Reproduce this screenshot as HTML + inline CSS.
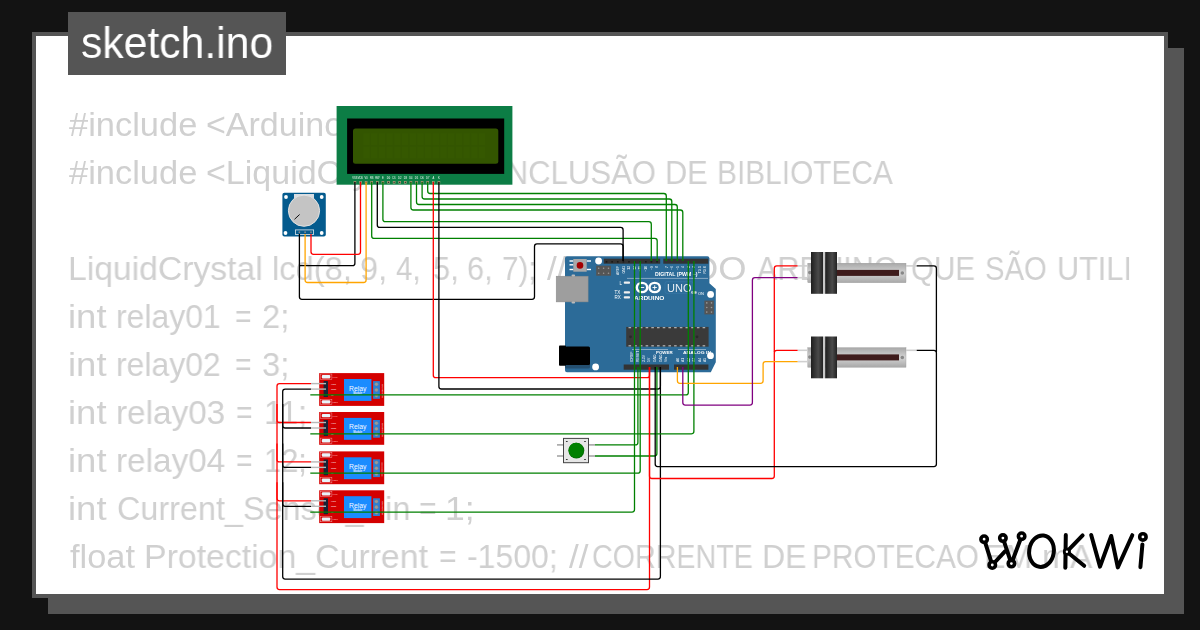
<!DOCTYPE html>
<html><head><meta charset="utf-8">
<style>
html,body{margin:0;padding:0;}
body{width:1200px;height:630px;background:#131313;position:relative;overflow:hidden;font-family:"Liberation Sans",sans-serif;}
.shadow{position:absolute;left:48px;top:48px;width:1136px;height:566px;background:#555;}
.panel{position:absolute;left:32px;top:32px;width:1128px;height:558px;border:4px solid #555;background:#fff;}
.tab{position:absolute;left:68px;top:12px;width:218px;height:63px;background:#555;}
.tab span{position:absolute;left:13px;top:6.9px;color:#fff;font-size:43.5px;line-height:48px;white-space:pre;transform:scaleX(0.981);transform-origin:0 0;will-change:transform;}
.code{position:absolute;left:0;top:0;width:1200px;height:630px;}
.code span{position:absolute;color:#d0d0d0;will-change:transform;font-size:34px;line-height:48px;white-space:pre;transform-origin:0 0;}
svg{position:absolute;left:0;top:0;}
</style></head><body>
<div class="shadow"></div>
<div class="panel"></div>
<div class="tab"><span>sketch.ino</span></div>
<div class="code">
<span style="left:69.00px;top:100.4px;transform:scaleX(1.0132)">#include</span>
<span style="left:206.40px;top:100.4px;transform:scaleX(1.0000)">&lt;Arduino.h&gt;</span>
<span style="left:69.00px;top:148.4px;transform:scaleX(1.0132)">#include</span>
<span style="left:206.40px;top:148.4px;transform:scaleX(1.0000)">&lt;LiquidCrystal.h&gt;</span>
<span style="left:480.14px;top:148.4px;transform:scaleX(1.0000)">//</span>
<span style="left:497.25px;top:148.4px;transform:scaleX(0.9151)">INCLUSÃO</span>
<span style="left:664.89px;top:148.4px;transform:scaleX(0.9045)">DE</span>
<span style="left:716.54px;top:148.4px;transform:scaleX(0.8781)">BIBLIOTECA</span>
<span style="left:68.02px;top:244.4px;transform:scaleX(0.9911)">LiquidCrystal</span>
<span style="left:272.48px;top:244.4px;transform:scaleX(0.9607)">lcd(8,</span>
<span style="left:360.30px;top:244.4px;transform:scaleX(0.9535)">9,</span>
<span style="left:395.60px;top:244.4px;transform:scaleX(0.8646)">4,</span>
<span style="left:433.49px;top:244.4px;transform:scaleX(0.9073)">5,</span>
<span style="left:466.60px;top:244.4px;transform:scaleX(0.9033)">6,</span>
<span style="left:501.63px;top:244.4px;transform:scaleX(0.8694)">7);</span>
<span style="left:546.90px;top:244.4px;transform:scaleX(1.0336)">//</span>
<span style="left:575.26px;top:244.4px;transform:scaleX(0.8700)">PINOS</span>
<span style="left:691.86px;top:244.4px;transform:scaleX(1.0704)">DO</span>
<span style="left:756.80px;top:244.4px;transform:scaleX(0.8961)">ARDUINO</span>
<span style="left:911.03px;top:244.4px;transform:scaleX(0.8681)">QUE</span>
<span style="left:985.39px;top:244.4px;transform:scaleX(0.8615)">SÃO</span>
<span style="left:1056.95px;top:244.4px;transform:scaleX(0.9005)">UTILI</span>
<span style="left:67.85px;top:292.4px;transform:scaleX(1.0736)">int</span>
<span style="left:116.12px;top:292.4px;transform:scaleX(0.9392)">relay01</span>
<span style="left:235.17px;top:292.4px;transform:scaleX(0.8333)">=</span>
<span style="left:262.04px;top:292.4px;transform:scaleX(0.9635)">2;</span>
<span style="left:67.85px;top:340.4px;transform:scaleX(1.0736)">int</span>
<span style="left:116.12px;top:340.4px;transform:scaleX(0.9392)">relay02</span>
<span style="left:235.17px;top:340.4px;transform:scaleX(0.8333)">=</span>
<span style="left:262.04px;top:340.4px;transform:scaleX(0.9635)">3;</span>
<span style="left:67.85px;top:388.4px;transform:scaleX(1.0736)">int</span>
<span style="left:116.04px;top:388.4px;transform:scaleX(0.9797)">relay03</span>
<span style="left:235.87px;top:388.4px;transform:scaleX(0.8278)">=</span>
<span style="left:263.67px;top:388.4px;transform:scaleX(0.9629)">11;</span>
<span style="left:67.85px;top:436.4px;transform:scaleX(1.0736)">int</span>
<span style="left:116.04px;top:436.4px;transform:scaleX(0.9797)">relay04</span>
<span style="left:235.87px;top:436.4px;transform:scaleX(0.8278)">=</span>
<span style="left:263.79px;top:436.4px;transform:scaleX(0.9062)">12;</span>
<span style="left:67.85px;top:484.4px;transform:scaleX(1.0736)">int</span>
<span style="left:117.25px;top:484.4px;transform:scaleX(0.9522)">Current_Sensor_Pin</span>
<span style="left:419.11px;top:484.4px;transform:scaleX(0.8889)">=</span>
<span style="left:445.41px;top:484.4px;transform:scaleX(1.0456)">1;</span>
<span style="left:69.50px;top:532.4px;transform:scaleX(1.0105)">float</span>
<span style="left:144.26px;top:532.4px;transform:scaleX(0.9950)">Protection_Current</span>
<span style="left:439.11px;top:532.4px;transform:scaleX(0.8889)">=</span>
<span style="left:466.56px;top:532.4px;transform:scaleX(0.9413)">-1500;</span>
<span style="left:568.50px;top:532.4px;transform:scaleX(1.0285)">//</span>
<span style="left:591.66px;top:532.4px;transform:scaleX(0.8434)">CORRENTE</span>
<span style="left:762.11px;top:532.4px;transform:scaleX(0.9427)">DE</span>
<span style="left:812.25px;top:532.4px;transform:scaleX(0.8753)">PROTECAO</span>
<span style="left:984.11px;top:532.4px;transform:scaleX(0.9426)">EM</span>
<span style="left:1041.77px;top:532.4px;transform:scaleX(0.9884)">mA</span>
</div>
<svg width="1200" height="630" viewBox="0 0 1200 630">
<rect x="336.6" y="106" width="175.8" height="78.7" fill="#0c7d45"/>
<rect x="347.1" y="118.5" width="157.1" height="55.4" fill="#000"/>
<rect x="353" y="128.5" width="145.3" height="35.3" rx="2.5" fill="#335500"/>
<g opacity="0.6"><rect x="363.3" y="133.2" width="6.5" height="12" fill="#375a00"/><rect x="371" y="133.2" width="6.5" height="12" fill="#375a00"/><rect x="378.7" y="133.2" width="6.5" height="12" fill="#375a00"/><rect x="386.4" y="133.2" width="6.5" height="12" fill="#375a00"/><rect x="394.1" y="133.2" width="6.5" height="12" fill="#375a00"/><rect x="401.8" y="133.2" width="6.5" height="12" fill="#375a00"/><rect x="409.5" y="133.2" width="6.5" height="12" fill="#375a00"/><rect x="417.2" y="133.2" width="6.5" height="12" fill="#375a00"/><rect x="424.9" y="133.2" width="6.5" height="12" fill="#375a00"/><rect x="432.6" y="133.2" width="6.5" height="12" fill="#375a00"/><rect x="440.3" y="133.2" width="6.5" height="12" fill="#375a00"/><rect x="448" y="133.2" width="6.5" height="12" fill="#375a00"/><rect x="455.7" y="133.2" width="6.5" height="12" fill="#375a00"/><rect x="463.4" y="133.2" width="6.5" height="12" fill="#375a00"/><rect x="471.1" y="133.2" width="6.5" height="12" fill="#375a00"/><rect x="478.8" y="133.2" width="6.5" height="12" fill="#375a00"/><rect x="363.3" y="146.5" width="6.5" height="12" fill="#375a00"/><rect x="371" y="146.5" width="6.5" height="12" fill="#375a00"/><rect x="378.7" y="146.5" width="6.5" height="12" fill="#375a00"/><rect x="386.4" y="146.5" width="6.5" height="12" fill="#375a00"/><rect x="394.1" y="146.5" width="6.5" height="12" fill="#375a00"/><rect x="401.8" y="146.5" width="6.5" height="12" fill="#375a00"/><rect x="409.5" y="146.5" width="6.5" height="12" fill="#375a00"/><rect x="417.2" y="146.5" width="6.5" height="12" fill="#375a00"/><rect x="424.9" y="146.5" width="6.5" height="12" fill="#375a00"/><rect x="432.6" y="146.5" width="6.5" height="12" fill="#375a00"/><rect x="440.3" y="146.5" width="6.5" height="12" fill="#375a00"/><rect x="448" y="146.5" width="6.5" height="12" fill="#375a00"/><rect x="455.7" y="146.5" width="6.5" height="12" fill="#375a00"/><rect x="463.4" y="146.5" width="6.5" height="12" fill="#375a00"/><rect x="471.1" y="146.5" width="6.5" height="12" fill="#375a00"/><rect x="478.8" y="146.5" width="6.5" height="12" fill="#375a00"/></g>
<rect x="353.6" y="181" width="2.6" height="2.6" fill="#b5a27a"/><rect x="354.3" y="181.7" width="1.2" height="1.2" fill="#222"/>
<rect x="359.2" y="181" width="2.6" height="2.6" fill="#b5a27a"/><rect x="359.9" y="181.7" width="1.2" height="1.2" fill="#222"/>
<rect x="364.8" y="181" width="2.6" height="2.6" fill="#b5a27a"/><rect x="365.5" y="181.7" width="1.2" height="1.2" fill="#222"/>
<rect x="370.4" y="181" width="2.6" height="2.6" fill="#b5a27a"/><rect x="371.1" y="181.7" width="1.2" height="1.2" fill="#222"/>
<rect x="376" y="181" width="2.6" height="2.6" fill="#b5a27a"/><rect x="376.7" y="181.7" width="1.2" height="1.2" fill="#222"/>
<rect x="381.6" y="181" width="2.6" height="2.6" fill="#b5a27a"/><rect x="382.3" y="181.7" width="1.2" height="1.2" fill="#222"/>
<rect x="387.2" y="181" width="2.6" height="2.6" fill="#b5a27a"/><rect x="387.9" y="181.7" width="1.2" height="1.2" fill="#222"/>
<rect x="392.8" y="181" width="2.6" height="2.6" fill="#b5a27a"/><rect x="393.5" y="181.7" width="1.2" height="1.2" fill="#222"/>
<rect x="398.4" y="181" width="2.6" height="2.6" fill="#b5a27a"/><rect x="399.1" y="181.7" width="1.2" height="1.2" fill="#222"/>
<rect x="404" y="181" width="2.6" height="2.6" fill="#b5a27a"/><rect x="404.7" y="181.7" width="1.2" height="1.2" fill="#222"/>
<rect x="409.6" y="181" width="2.6" height="2.6" fill="#b5a27a"/><rect x="410.3" y="181.7" width="1.2" height="1.2" fill="#222"/>
<rect x="415.2" y="181" width="2.6" height="2.6" fill="#b5a27a"/><rect x="415.9" y="181.7" width="1.2" height="1.2" fill="#222"/>
<rect x="420.8" y="181" width="2.6" height="2.6" fill="#b5a27a"/><rect x="421.5" y="181.7" width="1.2" height="1.2" fill="#222"/>
<rect x="426.4" y="181" width="2.6" height="2.6" fill="#b5a27a"/><rect x="427.1" y="181.7" width="1.2" height="1.2" fill="#222"/>
<rect x="432" y="181" width="2.6" height="2.6" fill="#b5a27a"/><rect x="432.7" y="181.7" width="1.2" height="1.2" fill="#222"/>
<rect x="437.6" y="181" width="2.6" height="2.6" fill="#b5a27a"/><rect x="438.3" y="181.7" width="1.2" height="1.2" fill="#222"/>
<text x="354.9" y="179" font-size="2.6" fill="#fff" text-anchor="middle" font-family="Liberation Sans">VSS</text>
<text x="360.5" y="179" font-size="2.6" fill="#fff" text-anchor="middle" font-family="Liberation Sans">VDD</text>
<text x="366.1" y="179" font-size="2.6" fill="#fff" text-anchor="middle" font-family="Liberation Sans">V0</text>
<text x="371.7" y="179" font-size="2.6" fill="#fff" text-anchor="middle" font-family="Liberation Sans">RS</text>
<text x="377.3" y="179" font-size="2.6" fill="#fff" text-anchor="middle" font-family="Liberation Sans">RW</text>
<text x="382.9" y="179" font-size="2.6" fill="#fff" text-anchor="middle" font-family="Liberation Sans">E</text>
<text x="388.5" y="179" font-size="2.6" fill="#fff" text-anchor="middle" font-family="Liberation Sans">D0</text>
<text x="394.1" y="179" font-size="2.6" fill="#fff" text-anchor="middle" font-family="Liberation Sans">D1</text>
<text x="399.7" y="179" font-size="2.6" fill="#fff" text-anchor="middle" font-family="Liberation Sans">D2</text>
<text x="405.3" y="179" font-size="2.6" fill="#fff" text-anchor="middle" font-family="Liberation Sans">D3</text>
<text x="410.9" y="179" font-size="2.6" fill="#fff" text-anchor="middle" font-family="Liberation Sans">D4</text>
<text x="416.5" y="179" font-size="2.6" fill="#fff" text-anchor="middle" font-family="Liberation Sans">D5</text>
<text x="422.1" y="179" font-size="2.6" fill="#fff" text-anchor="middle" font-family="Liberation Sans">D6</text>
<text x="427.7" y="179" font-size="2.6" fill="#fff" text-anchor="middle" font-family="Liberation Sans">D7</text>
<text x="433.3" y="179" font-size="2.6" fill="#fff" text-anchor="middle" font-family="Liberation Sans">A</text>
<text x="438.9" y="179" font-size="2.6" fill="#fff" text-anchor="middle" font-family="Liberation Sans">K</text>
<rect x="282.4" y="192.8" width="43.4" height="43.6" rx="2" fill="#045b8e"/>
<circle cx="286" cy="197" r="1.9" fill="#fff"/>
<circle cx="321.7" cy="197" r="1.9" fill="#fff"/>
<circle cx="285.5" cy="233" r="1.9" fill="#fff"/>
<circle cx="321.7" cy="233" r="1.9" fill="#fff"/>
<rect x="294" y="194" width="20" height="4" fill="#d8dde2"/>
<circle cx="304" cy="210.7" r="15.6" fill="#c4c4c4" stroke="#e2e2e2" stroke-width="1"/>
<line x1="294.5" y1="219.3" x2="299.6" y2="214.5" stroke="#111" stroke-width="1"/>
<rect x="295.4" y="229.9" width="18.2" height="4.6" fill="none" stroke="#dfe6ec" stroke-width="0.8"/>
<circle cx="299.4" cy="232.2" r="0.9" fill="#888"/>
<circle cx="305.1" cy="232.2" r="0.9" fill="#888"/>
<circle cx="311" cy="232.2" r="0.9" fill="#888"/>
<path d="M567,256.2 L707.4,256.2 Q709.4,256.2 709.4,258.2 L709.4,283.3 L715.8,288.9 L715.8,362.3 L710.8,372.2 L567,372.2 Q565,372.2 565,370.2 L565,258.2 Q565,256.2 567,256.2 Z" fill="#2c6b98"/>
<rect x="556.2" y="276.2" width="31.9" height="25.7" fill="#9e9e9e" stroke="#8a8a8a" stroke-width="0.5"/>
<rect x="571.5" y="274.6" width="3.6" height="2" rx="1" fill="#bbb"/><rect x="571.5" y="301.6" width="3.6" height="2" rx="1" fill="#bbb"/>
<rect x="569.5" y="260.3" width="4" height="1.4" fill="#fff"/>
<rect x="569.5" y="264.1" width="4" height="1.4" fill="#fff"/>
<rect x="569.5" y="268.8" width="4" height="1.4" fill="#fff"/>
<rect x="586.7" y="260.3" width="4.3" height="1.4" fill="#fff"/>
<rect x="586.7" y="268.8" width="4.3" height="1.4" fill="#fff"/>
<rect x="573.3" y="259" width="13.4" height="12.7" fill="#a9a9a9"/>
<circle cx="580" cy="265.4" r="3.3" fill="#a40000"/>
<circle cx="598.6" cy="261" r="3.4" fill="#fff"/>
<circle cx="710.6" cy="294.4" r="3.4" fill="#fff"/>
<circle cx="710.5" cy="355.7" r="3.4" fill="#fff"/>
<circle cx="595.6" cy="366.9" r="3.4" fill="#fff"/>
<rect x="596.2" y="265.7" width="14.8" height="10" fill="#555"/>
<circle cx="598.7" cy="268.2" r="0.8" fill="#999"/>
<circle cx="598.7" cy="273.2" r="0.8" fill="#999"/>
<circle cx="603.6" cy="268.2" r="0.8" fill="#999"/>
<circle cx="603.6" cy="273.2" r="0.8" fill="#999"/>
<circle cx="608.5" cy="268.2" r="0.8" fill="#999"/>
<circle cx="608.5" cy="273.2" r="0.8" fill="#999"/>
<rect x="704.4" y="300.6" width="9.5" height="13.8" fill="#555"/>
<circle cx="706.8" cy="302.9" r="0.8" fill="#999"/>
<circle cx="706.8" cy="307.5" r="0.8" fill="#999"/>
<circle cx="706.8" cy="312.1" r="0.8" fill="#999"/>
<circle cx="711.5" cy="302.9" r="0.8" fill="#999"/>
<circle cx="711.5" cy="307.5" r="0.8" fill="#999"/>
<circle cx="711.5" cy="312.1" r="0.8" fill="#999"/>
<rect x="603.8" y="258.7" width="56.4" height="5" fill="#333"/>
<rect x="663.3" y="258.7" width="45" height="5" fill="#333"/>
<rect x="623.7" y="364.5" width="45.3" height="5.2" fill="#333"/>
<rect x="674" y="364.5" width="34.4" height="5.2" fill="#333"/>
<rect x="605.7" y="261" width="1.6" height="1.6" fill="#1a1a1a"/>
<rect x="611.32" y="261" width="1.6" height="1.6" fill="#1a1a1a"/>
<rect x="616.94" y="261" width="1.6" height="1.6" fill="#1a1a1a"/>
<rect x="622.56" y="261" width="1.6" height="1.6" fill="#1a1a1a"/>
<rect x="628.18" y="261" width="1.6" height="1.6" fill="#1a1a1a"/>
<rect x="633.8" y="261" width="1.6" height="1.6" fill="#1a1a1a"/>
<rect x="639.42" y="261" width="1.6" height="1.6" fill="#1a1a1a"/>
<rect x="645.04" y="261" width="1.6" height="1.6" fill="#1a1a1a"/>
<rect x="650.66" y="261" width="1.6" height="1.6" fill="#1a1a1a"/>
<rect x="656.28" y="261" width="1.6" height="1.6" fill="#1a1a1a"/>
<rect x="626.2" y="326.9" width="82.4" height="19.8" fill="#3a3a3a"/>
<rect x="628.5" y="327.3" width="2.6" height="0.9" fill="#ddd"/><rect x="628.5" y="345.4" width="2.6" height="0.9" fill="#ddd"/>
<rect x="634.2" y="327.3" width="2.6" height="0.9" fill="#ddd"/><rect x="634.2" y="345.4" width="2.6" height="0.9" fill="#ddd"/>
<rect x="639.9" y="327.3" width="2.6" height="0.9" fill="#ddd"/><rect x="639.9" y="345.4" width="2.6" height="0.9" fill="#ddd"/>
<rect x="645.6" y="327.3" width="2.6" height="0.9" fill="#ddd"/><rect x="645.6" y="345.4" width="2.6" height="0.9" fill="#ddd"/>
<rect x="651.3" y="327.3" width="2.6" height="0.9" fill="#ddd"/><rect x="651.3" y="345.4" width="2.6" height="0.9" fill="#ddd"/>
<rect x="657" y="327.3" width="2.6" height="0.9" fill="#ddd"/><rect x="657" y="345.4" width="2.6" height="0.9" fill="#ddd"/>
<rect x="662.7" y="327.3" width="2.6" height="0.9" fill="#ddd"/><rect x="662.7" y="345.4" width="2.6" height="0.9" fill="#ddd"/>
<rect x="668.4" y="327.3" width="2.6" height="0.9" fill="#ddd"/><rect x="668.4" y="345.4" width="2.6" height="0.9" fill="#ddd"/>
<rect x="674.1" y="327.3" width="2.6" height="0.9" fill="#ddd"/><rect x="674.1" y="345.4" width="2.6" height="0.9" fill="#ddd"/>
<rect x="679.8" y="327.3" width="2.6" height="0.9" fill="#ddd"/><rect x="679.8" y="345.4" width="2.6" height="0.9" fill="#ddd"/>
<rect x="685.5" y="327.3" width="2.6" height="0.9" fill="#ddd"/><rect x="685.5" y="345.4" width="2.6" height="0.9" fill="#ddd"/>
<rect x="691.2" y="327.3" width="2.6" height="0.9" fill="#ddd"/><rect x="691.2" y="345.4" width="2.6" height="0.9" fill="#ddd"/>
<rect x="696.9" y="327.3" width="2.6" height="0.9" fill="#ddd"/><rect x="696.9" y="345.4" width="2.6" height="0.9" fill="#ddd"/>
<rect x="702.6" y="327.3" width="2.6" height="0.9" fill="#ddd"/><rect x="702.6" y="345.4" width="2.6" height="0.9" fill="#ddd"/>
<circle cx="630.5" cy="336.8" r="1.4" fill="#2a2a2a"/><circle cx="697" cy="336.8" r="1.4" fill="#2a2a2a"/>
<rect x="565" y="360" width="25" height="8.6" rx="1.5" fill="#244f70"/>
<rect x="559" y="345.4" width="7" height="20.3" rx="0.8" fill="#000"/>
<rect x="565" y="346.4" width="25" height="18.6" rx="1.5" fill="#000"/>
<rect x="623.8" y="281.40000000000003" width="6.2" height="2.4" rx="0.8" fill="#f0f0f0"/>
<rect x="623.8" y="291.2" width="6.2" height="2.4" rx="0.8" fill="#f0f0f0"/>
<rect x="623.8" y="296.2" width="6.2" height="2.4" rx="0.8" fill="#f0f0f0"/>
<rect x="691" y="291.3" width="5.7" height="2.4" rx="0.8" fill="#f0f0f0" opacity="0.8"/>
<g fill="#fff" font-family="Liberation Sans" font-weight="bold">
<text x="655" y="276" font-size="4.6" textLength="42.5" lengthAdjust="spacingAndGlyphs">DIGITAL (PWM ~)</text>
<text x="634" y="299.6" font-size="5.4" textLength="30.4" lengthAdjust="spacingAndGlyphs">ARDUINO</text>
<text x="667" y="292" font-size="11" font-weight="normal" fill="#e8eef4">UNO</text>
<text x="698" y="294.5" font-size="4" font-weight="normal">ON</text>
<text x="656" y="353.8" font-size="4.4" textLength="16.6" lengthAdjust="spacingAndGlyphs">POWER</text>
<text x="683" y="353.8" font-size="4.4" textLength="28" lengthAdjust="spacingAndGlyphs">ANALOG IN</text>
<text x="619.5" y="284.5" font-size="4.5" font-weight="normal">L</text>
<text x="614.5" y="294" font-size="4.5" font-weight="normal">TX</text>
<text x="614.5" y="299" font-size="4.5" font-weight="normal">RX</text>
</g>
<path d="M627,278.4 L708,278.4" stroke="#dfe8f0" stroke-width="0.5"/>
<path d="M632,349.5 L668,349.5 M678,349.5 L706,349.5" stroke="#dfe8f0" stroke-width="0.5"/>
<rect x="665" y="281.7" width="28.3" height="11.6" rx="2" fill="none" stroke="#3a7bab" stroke-width="0.6"/>
<g fill="none" stroke="#fff" stroke-width="2.4"><ellipse cx="642" cy="287.5" rx="5.2" ry="4.6"/><ellipse cx="654.7" cy="287.5" rx="5.2" ry="4.6"/></g>
<path d="M639.8,287.5 h4.4 M652.5,287.5 h4.4 M654.7,285.3 v4.4" stroke="#fff" stroke-width="0.9"/>
<text transform="translate(618.9,266) rotate(-90)" font-size="3.4" fill="#fff" text-anchor="end" font-family="Liberation Sans">AREF</text>
<text transform="translate(624.5,266) rotate(-90)" font-size="3.4" fill="#fff" text-anchor="end" font-family="Liberation Sans">GND</text>
<text transform="translate(630.1,266) rotate(-90)" font-size="3.4" fill="#fff" text-anchor="end" font-family="Liberation Sans">13</text>
<text transform="translate(635.7,266) rotate(-90)" font-size="3.4" fill="#fff" text-anchor="end" font-family="Liberation Sans">12</text>
<text transform="translate(641.3,266) rotate(-90)" font-size="3.4" fill="#fff" text-anchor="end" font-family="Liberation Sans">~11</text>
<text transform="translate(646.9,266) rotate(-90)" font-size="3.4" fill="#fff" text-anchor="end" font-family="Liberation Sans">~10</text>
<text transform="translate(652.5,266) rotate(-90)" font-size="3.4" fill="#fff" text-anchor="end" font-family="Liberation Sans">~9</text>
<text transform="translate(658.1,266) rotate(-90)" font-size="3.4" fill="#fff" text-anchor="end" font-family="Liberation Sans">8</text>
<text transform="translate(667.6,266) rotate(-90)" font-size="3.4" fill="#fff" text-anchor="end" font-family="Liberation Sans">7</text>
<text transform="translate(673.15,266) rotate(-90)" font-size="3.4" fill="#fff" text-anchor="end" font-family="Liberation Sans">~6</text>
<text transform="translate(678.7,266) rotate(-90)" font-size="3.4" fill="#fff" text-anchor="end" font-family="Liberation Sans">~5</text>
<text transform="translate(684.25,266) rotate(-90)" font-size="3.4" fill="#fff" text-anchor="end" font-family="Liberation Sans">4</text>
<text transform="translate(689.8,266) rotate(-90)" font-size="3.4" fill="#fff" text-anchor="end" font-family="Liberation Sans">~3</text>
<text transform="translate(695.35,266) rotate(-90)" font-size="3.4" fill="#fff" text-anchor="end" font-family="Liberation Sans">2</text>
<text transform="translate(700.9,266) rotate(-90)" font-size="3.4" fill="#fff" text-anchor="end" font-family="Liberation Sans">TX 1</text>
<text transform="translate(706.45,266) rotate(-90)" font-size="3.4" fill="#fff" text-anchor="end" font-family="Liberation Sans">RX 0</text>
<text transform="translate(633.45,362) rotate(-90)" font-size="3.4" fill="#fff" font-family="Liberation Sans">IOREF</text>
<text transform="translate(639.1,362) rotate(-90)" font-size="3.4" fill="#fff" font-family="Liberation Sans">RESET</text>
<text transform="translate(644.75,362) rotate(-90)" font-size="3.4" fill="#fff" font-family="Liberation Sans">3.3V</text>
<text transform="translate(650.4,362) rotate(-90)" font-size="3.4" fill="#fff" font-family="Liberation Sans">5V</text>
<text transform="translate(656.05,362) rotate(-90)" font-size="3.4" fill="#fff" font-family="Liberation Sans">GND</text>
<text transform="translate(661.7,362) rotate(-90)" font-size="3.4" fill="#fff" font-family="Liberation Sans">GND</text>
<text transform="translate(667.35,362) rotate(-90)" font-size="3.4" fill="#fff" font-family="Liberation Sans">Vin</text>
<text transform="translate(678.7,362) rotate(-90)" font-size="3.4" fill="#fff" font-family="Liberation Sans">A0</text>
<text transform="translate(684.15,362) rotate(-90)" font-size="3.4" fill="#fff" font-family="Liberation Sans">A1</text>
<text transform="translate(689.6,362) rotate(-90)" font-size="3.4" fill="#fff" font-family="Liberation Sans">A2</text>
<text transform="translate(695.05,362) rotate(-90)" font-size="3.4" fill="#fff" font-family="Liberation Sans">A3</text>
<text transform="translate(700.5,362) rotate(-90)" font-size="3.4" fill="#fff" font-family="Liberation Sans">A4</text>
<text transform="translate(705.95,362) rotate(-90)" font-size="3.4" fill="#fff" font-family="Liberation Sans">A5</text>
<defs><linearGradient id="sg" x1="0" y1="0" x2="0" y2="1"><stop offset="0" stop-color="#a8a8a8"/><stop offset="0.5" stop-color="#d4d4d4"/><stop offset="1" stop-color="#a8a8a8"/></linearGradient><linearGradient id="kg" x1="0" y1="0" x2="1" y2="0"><stop offset="0" stop-color="#1e1e1e"/><stop offset="0.6" stop-color="#4a4a4a"/><stop offset="1" stop-color="#222"/></linearGradient></defs>
<rect x="807.8" y="263.2" width="98.2" height="19.5" fill="url(#sg)" stroke="#999" stroke-width="0.4"/><rect x="836.7" y="269.9" width="62.3" height="6" fill="#3f1c1c"/><circle cx="902.3" cy="273" r="1.8" fill="#888"/><circle cx="809.8" cy="272.6" r="1.8" fill="#888"/><rect x="811" y="252" width="12" height="41.8" fill="url(#kg)"/><rect x="825.1" y="252" width="11.9" height="41.8" fill="url(#kg)"/><rect x="823" y="252" width="2.1" height="41.8" fill="#c8c8c8"/>
<rect x="807.8" y="347.7" width="98.2" height="19.5" fill="url(#sg)" stroke="#999" stroke-width="0.4"/><rect x="836.7" y="354.4" width="62.3" height="6" fill="#3f1c1c"/><circle cx="902.3" cy="357.5" r="1.8" fill="#888"/><circle cx="809.8" cy="357.1" r="1.8" fill="#888"/><rect x="811" y="336.5" width="12" height="41.8" fill="url(#kg)"/><rect x="825.1" y="336.5" width="11.9" height="41.8" fill="url(#kg)"/><rect x="823" y="336.5" width="2.1" height="41.8" fill="#c8c8c8"/>
<line x1="797.6" y1="265.9" x2="807.8" y2="265.9" stroke="#d0d0d0" stroke-width="1.6"/>
<line x1="797.6" y1="277.7" x2="807.8" y2="277.7" stroke="#d0d0d0" stroke-width="1.6"/>
<line x1="797.6" y1="350.3" x2="807.8" y2="350.3" stroke="#d0d0d0" stroke-width="1.6"/>
<line x1="797.6" y1="361.6" x2="807.8" y2="361.6" stroke="#d0d0d0" stroke-width="1.6"/>
<line x1="906" y1="265.9" x2="916.7" y2="265.9" stroke="#d0d0d0" stroke-width="1.6"/>
<line x1="906" y1="350.3" x2="916.7" y2="350.3" stroke="#d0d0d0" stroke-width="1.6"/>
<rect x="319.2" y="373.1" width="65" height="32.8" fill="#d40000"/><rect x="344" y="379" width="27.4" height="21.9" fill="#1a8cff"/><circle cx="345.5" cy="398.9" r="0.7" fill="#6060e0"/><text x="357.7" y="390.5" font-size="6.8" fill="#f4f8ff" text-anchor="middle" font-family="Liberation Sans">Relay</text><text x="357.7" y="393.7" font-size="2.6" fill="#e8f0ff" text-anchor="middle" font-family="Liberation Sans" font-weight="bold">Module</text><rect x="373.1" y="381.1" width="6.8" height="17.7" fill="#2a80d8"/><circle cx="376.4" cy="384.3" r="1.8" fill="#9a9a9a" stroke="#777" stroke-width="0.3"/><circle cx="376.4" cy="389.95" r="1.8" fill="#9a9a9a" stroke="#777" stroke-width="0.3"/><circle cx="376.4" cy="395.6" r="1.8" fill="#9a9a9a" stroke="#777" stroke-width="0.3"/><rect x="323.6" y="381.1" width="4.4" height="15.9" rx="0.6" fill="#1a2235"/><rect x="320.2" y="374" width="11.7" height="5.4" fill="none" stroke="#f3c0c0" stroke-width="0.4"/><rect x="321.8" y="375" width="8.5" height="3.4" rx="1" fill="#e8f4fa"/><rect x="320.2" y="399.2" width="11.7" height="5.4" fill="none" stroke="#f3c0c0" stroke-width="0.4"/><rect x="321.8" y="400.2" width="8.5" height="3.4" rx="1" fill="#e8f4fa"/><text x="331" y="384.6" font-size="2.4" fill="#fff" font-family="Liberation Sans">VCC</text><text x="331" y="390.2" font-size="2.4" fill="#fff" font-family="Liberation Sans">GND</text><text x="331" y="395.8" font-size="2.4" fill="#fff" font-family="Liberation Sans">IN</text><text x="332.5" y="377.9" font-size="2.2" fill="#fbb" font-family="Liberation Sans">PWR</text><text x="332.5" y="403.1" font-size="2.2" fill="#fbb" font-family="Liberation Sans">LED1</text><text transform="translate(382.5,398.1) rotate(-90)" font-size="2.4" fill="#fff" font-family="Liberation Sans">NC COM NO</text><line x1="311" y1="383.6" x2="326" y2="383.6" stroke="#b8b8b8" stroke-width="1.4"/><line x1="311" y1="389.1" x2="326" y2="389.1" stroke="#b8b8b8" stroke-width="1.4"/>
<rect x="319.2" y="412" width="65" height="32.8" fill="#d40000"/><rect x="344" y="417.9" width="27.4" height="21.9" fill="#1a8cff"/><circle cx="345.5" cy="437.8" r="0.7" fill="#6060e0"/><text x="357.7" y="429.4" font-size="6.8" fill="#f4f8ff" text-anchor="middle" font-family="Liberation Sans">Relay</text><text x="357.7" y="432.6" font-size="2.6" fill="#e8f0ff" text-anchor="middle" font-family="Liberation Sans" font-weight="bold">Module</text><rect x="373.1" y="420" width="6.8" height="17.7" fill="#2a80d8"/><circle cx="376.4" cy="423.2" r="1.8" fill="#9a9a9a" stroke="#777" stroke-width="0.3"/><circle cx="376.4" cy="428.85" r="1.8" fill="#9a9a9a" stroke="#777" stroke-width="0.3"/><circle cx="376.4" cy="434.5" r="1.8" fill="#9a9a9a" stroke="#777" stroke-width="0.3"/><rect x="323.6" y="420" width="4.4" height="15.9" rx="0.6" fill="#1a2235"/><rect x="320.2" y="412.9" width="11.7" height="5.4" fill="none" stroke="#f3c0c0" stroke-width="0.4"/><rect x="321.8" y="413.9" width="8.5" height="3.4" rx="1" fill="#e8f4fa"/><rect x="320.2" y="438.1" width="11.7" height="5.4" fill="none" stroke="#f3c0c0" stroke-width="0.4"/><rect x="321.8" y="439.1" width="8.5" height="3.4" rx="1" fill="#e8f4fa"/><text x="331" y="423.5" font-size="2.4" fill="#fff" font-family="Liberation Sans">VCC</text><text x="331" y="429.1" font-size="2.4" fill="#fff" font-family="Liberation Sans">GND</text><text x="331" y="434.7" font-size="2.4" fill="#fff" font-family="Liberation Sans">IN</text><text x="332.5" y="416.8" font-size="2.2" fill="#fbb" font-family="Liberation Sans">PWR</text><text x="332.5" y="442" font-size="2.2" fill="#fbb" font-family="Liberation Sans">LED1</text><text transform="translate(382.5,437) rotate(-90)" font-size="2.4" fill="#fff" font-family="Liberation Sans">NC COM NO</text><line x1="311" y1="422.5" x2="326" y2="422.5" stroke="#b8b8b8" stroke-width="1.4"/><line x1="311" y1="428" x2="326" y2="428" stroke="#b8b8b8" stroke-width="1.4"/>
<rect x="319.2" y="451.4" width="65" height="32.8" fill="#d40000"/><rect x="344" y="457.3" width="27.4" height="21.9" fill="#1a8cff"/><circle cx="345.5" cy="477.2" r="0.7" fill="#6060e0"/><text x="357.7" y="468.8" font-size="6.8" fill="#f4f8ff" text-anchor="middle" font-family="Liberation Sans">Relay</text><text x="357.7" y="472" font-size="2.6" fill="#e8f0ff" text-anchor="middle" font-family="Liberation Sans" font-weight="bold">Module</text><rect x="373.1" y="459.4" width="6.8" height="17.7" fill="#2a80d8"/><circle cx="376.4" cy="462.6" r="1.8" fill="#9a9a9a" stroke="#777" stroke-width="0.3"/><circle cx="376.4" cy="468.25" r="1.8" fill="#9a9a9a" stroke="#777" stroke-width="0.3"/><circle cx="376.4" cy="473.9" r="1.8" fill="#9a9a9a" stroke="#777" stroke-width="0.3"/><rect x="323.6" y="459.4" width="4.4" height="15.9" rx="0.6" fill="#1a2235"/><rect x="320.2" y="452.3" width="11.7" height="5.4" fill="none" stroke="#f3c0c0" stroke-width="0.4"/><rect x="321.8" y="453.3" width="8.5" height="3.4" rx="1" fill="#e8f4fa"/><rect x="320.2" y="477.5" width="11.7" height="5.4" fill="none" stroke="#f3c0c0" stroke-width="0.4"/><rect x="321.8" y="478.5" width="8.5" height="3.4" rx="1" fill="#e8f4fa"/><text x="331" y="462.9" font-size="2.4" fill="#fff" font-family="Liberation Sans">VCC</text><text x="331" y="468.5" font-size="2.4" fill="#fff" font-family="Liberation Sans">GND</text><text x="331" y="474.1" font-size="2.4" fill="#fff" font-family="Liberation Sans">IN</text><text x="332.5" y="456.2" font-size="2.2" fill="#fbb" font-family="Liberation Sans">PWR</text><text x="332.5" y="481.4" font-size="2.2" fill="#fbb" font-family="Liberation Sans">LED1</text><text transform="translate(382.5,476.4) rotate(-90)" font-size="2.4" fill="#fff" font-family="Liberation Sans">NC COM NO</text><line x1="311" y1="461.9" x2="326" y2="461.9" stroke="#b8b8b8" stroke-width="1.4"/><line x1="311" y1="467.4" x2="326" y2="467.4" stroke="#b8b8b8" stroke-width="1.4"/>
<rect x="319.2" y="490.3" width="65" height="32.8" fill="#d40000"/><rect x="344" y="496.2" width="27.4" height="21.9" fill="#1a8cff"/><circle cx="345.5" cy="516.1" r="0.7" fill="#6060e0"/><text x="357.7" y="507.7" font-size="6.8" fill="#f4f8ff" text-anchor="middle" font-family="Liberation Sans">Relay</text><text x="357.7" y="510.9" font-size="2.6" fill="#e8f0ff" text-anchor="middle" font-family="Liberation Sans" font-weight="bold">Module</text><rect x="373.1" y="498.3" width="6.8" height="17.7" fill="#2a80d8"/><circle cx="376.4" cy="501.5" r="1.8" fill="#9a9a9a" stroke="#777" stroke-width="0.3"/><circle cx="376.4" cy="507.15" r="1.8" fill="#9a9a9a" stroke="#777" stroke-width="0.3"/><circle cx="376.4" cy="512.8" r="1.8" fill="#9a9a9a" stroke="#777" stroke-width="0.3"/><rect x="323.6" y="498.3" width="4.4" height="15.9" rx="0.6" fill="#1a2235"/><rect x="320.2" y="491.2" width="11.7" height="5.4" fill="none" stroke="#f3c0c0" stroke-width="0.4"/><rect x="321.8" y="492.2" width="8.5" height="3.4" rx="1" fill="#e8f4fa"/><rect x="320.2" y="516.4" width="11.7" height="5.4" fill="none" stroke="#f3c0c0" stroke-width="0.4"/><rect x="321.8" y="517.4" width="8.5" height="3.4" rx="1" fill="#e8f4fa"/><text x="331" y="501.8" font-size="2.4" fill="#fff" font-family="Liberation Sans">VCC</text><text x="331" y="507.4" font-size="2.4" fill="#fff" font-family="Liberation Sans">GND</text><text x="331" y="513" font-size="2.4" fill="#fff" font-family="Liberation Sans">IN</text><text x="332.5" y="495.1" font-size="2.2" fill="#fbb" font-family="Liberation Sans">PWR</text><text x="332.5" y="520.3" font-size="2.2" fill="#fbb" font-family="Liberation Sans">LED1</text><text transform="translate(382.5,515.3) rotate(-90)" font-size="2.4" fill="#fff" font-family="Liberation Sans">NC COM NO</text><line x1="311" y1="500.8" x2="326" y2="500.8" stroke="#b8b8b8" stroke-width="1.4"/><line x1="311" y1="506.3" x2="326" y2="506.3" stroke="#b8b8b8" stroke-width="1.4"/>
<line x1="557" y1="444.9" x2="563" y2="444.9" stroke="#999" stroke-width="1.4"/><line x1="589" y1="444.9" x2="595" y2="444.9" stroke="#999" stroke-width="1.4"/>
<line x1="557" y1="456" x2="563" y2="456" stroke="#999" stroke-width="1.4"/><line x1="589" y1="456" x2="595" y2="456" stroke="#999" stroke-width="1.4"/>
<rect x="563.5" y="438.4" width="25" height="24.3" fill="#e6e6e6" stroke="#444" stroke-width="1"/>
<ellipse cx="566.8" cy="441.5" rx="1" ry="0.6" fill="#222"/>
<ellipse cx="585" cy="441.5" rx="1" ry="0.6" fill="#222"/>
<ellipse cx="566.8" cy="459.5" rx="1" ry="0.6" fill="#222"/>
<ellipse cx="585" cy="459.5" rx="1" ry="0.6" fill="#222"/>
<circle cx="576.4" cy="450.6" r="7.9" fill="#006a00"/>
<circle cx="576" cy="450.2" r="7.5" fill="#008000"/>
<path d="M299.4,234 L299.4,296.8 Q299.4,299.3 301.9,299.3 L532,299.3 Q534.5,299.3 534.5,296.8 L534.5,246.4 Q534.5,243.9 537,243.9 L620.6,243.9 Q623.1,243.9 623.1,246.4 L623.1,261" stroke="#000" stroke-width="1.3" fill="none"/>
<path d="M299.4,265.7 L352.4,265.7 Q354.9,265.7 354.9,263.2 L354.9,182.3" stroke="#000" stroke-width="1.3" fill="none"/>
<path d="M311,234 L311,251.8 Q311,254.3 313.5,254.3 L358,254.3 Q360.5,254.3 360.5,251.8 L360.5,182.3" stroke="#ff0000" stroke-width="1.3" fill="none"/>
<path d="M305.1,234 L305.1,280 Q305.1,282.5 307.6,282.5 L363.6,282.5 Q366.1,282.5 366.1,280 L366.1,182.3" stroke="#ffa500" stroke-width="1.3" fill="none"/>
<path d="M371.7,182.3 L371.7,235.9 Q371.7,238.4 374.2,238.4 L654.7,238.4 Q657.2,238.4 657.2,240.9 L657.2,261" stroke="#008000" stroke-width="1.3" fill="none"/>
<path d="M377.3,182.3 L377.3,224.9 Q377.3,227.4 379.8,227.4 L620.6,227.4 Q623.1,227.4 623.1,229.9 L623.1,261" stroke="#000" stroke-width="1.3" fill="none"/>
<path d="M382.9,182.3 L382.9,219.2 Q382.9,221.7 385.4,221.7 L648.8,221.7 Q651.3,221.7 651.3,224.2 L651.3,261" stroke="#008000" stroke-width="1.3" fill="none"/>
<path d="M410.9,182.3 L410.9,207.5 Q410.9,210 413.4,210 L680.3,210 Q682.8,210 682.8,212.5 L682.8,261" stroke="#008000" stroke-width="1.3" fill="none"/>
<path d="M416.5,182.3 L416.5,202 Q416.5,204.5 419,204.5 L674.8,204.5 Q677.3,204.5 677.3,207 L677.3,261" stroke="#008000" stroke-width="1.3" fill="none"/>
<path d="M422.1,182.3 L422.1,196.5 Q422.1,199 424.6,199 L669.3,199 Q671.8,199 671.8,201.5 L671.8,261" stroke="#008000" stroke-width="1.3" fill="none"/>
<path d="M427.7,182.3 L427.7,191 Q427.7,193.5 430.2,193.5 L663.8,193.5 Q666.3,193.5 666.3,196 L666.3,261" stroke="#008000" stroke-width="1.3" fill="none"/>
<path d="M433.3,182.3 L433.3,375.2 Q433.3,377.7 435.8,377.7 L647,377.7 Q649.5,377.7 649.5,375.2 L649.5,367" stroke="#ff0000" stroke-width="1.3" fill="none"/>
<path d="M438.9,182.3 L438.9,386.5 Q438.9,389 441.4,389 L657.9,389 Q660.4,389 660.4,386.5 L660.4,367" stroke="#000" stroke-width="1.3" fill="none"/>
<path d="M649.5,367 L649.5,587.1 Q649.5,589.6 647,589.6 L279.5,589.6 Q277,589.6 277,587.1 L277,386.1 Q277,383.6 279.5,383.6 L311,383.6" stroke="#ff0000" stroke-width="1.3" fill="none"/>
<path d="M660.4,367 L660.4,576.6 Q660.4,579.1 657.9,579.1 L285.2,579.1 Q282.7,579.1 282.7,576.6 L282.7,391.6 Q282.7,389.1 285.2,389.1 L311,389.1" stroke="#000" stroke-width="1.3" fill="none"/>
<path d="M277,404 L277,420 Q277,422.5 279.5,422.5 L311,422.5" stroke="#ff0000" stroke-width="1.3" fill="none"/>
<path d="M282.7,404 L282.7,425.5 Q282.7,428 285.2,428 L311,428" stroke="#000" stroke-width="1.3" fill="none"/>
<path d="M277,443.4 L277,459.4 Q277,461.9 279.5,461.9 L311,461.9" stroke="#ff0000" stroke-width="1.3" fill="none"/>
<path d="M282.7,443.4 L282.7,464.9 Q282.7,467.4 285.2,467.4 L311,467.4" stroke="#000" stroke-width="1.3" fill="none"/>
<path d="M277,482.3 L277,498.3 Q277,500.8 279.5,500.8 L311,500.8" stroke="#ff0000" stroke-width="1.3" fill="none"/>
<path d="M282.7,482.3 L282.7,503.8 Q282.7,506.3 285.2,506.3 L311,506.3" stroke="#000" stroke-width="1.3" fill="none"/>
<path d="M310.3,394.9 L685.8,394.9 Q688.3,394.9 688.3,392.4 L688.3,261" stroke="#008000" stroke-width="1.3" fill="none"/>
<path d="M310.3,433.8 L691.4,433.8 Q693.9,433.8 693.9,431.3 L693.9,261" stroke="#008000" stroke-width="1.3" fill="none"/>
<path d="M310.3,473.2 L637.7,473.2 Q640.2,473.2 640.2,470.7 L640.2,261" stroke="#008000" stroke-width="1.3" fill="none"/>
<path d="M310.3,512.1 L632,512.1 Q634.5,512.1 634.5,509.6 L634.5,261" stroke="#008000" stroke-width="1.3" fill="none"/>
<path d="M595,444.9 L635.4,444.9 Q637.9,444.9 637.9,442.4 L637.9,367" stroke="#008000" stroke-width="1.3" fill="none"/>
<path d="M595,456 L654.4,456 Q656.9,456 656.9,453.5 L656.9,367" stroke="#008000" stroke-width="1.3" fill="none"/>
<path d="M649.5,367 L649.5,476 Q649.5,478.5 652,478.5 L771.8,478.5 Q774.3,478.5 774.3,476 L774.3,352.8 Q774.3,350.3 776.8,350.3 L797.6,350.3" stroke="#ff0000" stroke-width="1.3" fill="none"/>
<path d="M774.3,352 L774.3,268.4 Q774.3,265.9 776.8,265.9 L797.6,265.9" stroke="#ff0000" stroke-width="1.3" fill="none"/>
<path d="M655.2,367 L655.2,464.1 Q655.2,466.6 657.7,466.6 L933.9,466.6 Q936.4,466.6 936.4,464.1 L936.4,352.8 Q936.4,350.3 933.9,350.3 L916.7,350.3" stroke="#000" stroke-width="1.3" fill="none"/>
<path d="M936.4,352 L936.4,268.4 Q936.4,265.9 933.9,265.9 L916.7,265.9" stroke="#000" stroke-width="1.3" fill="none"/>
<path d="M677.4,367 L677.4,380.8 Q677.4,383.3 679.9,383.3 L760.6,383.3 Q763.1,383.3 763.1,380.8 L763.1,364.1 Q763.1,361.6 765.6,361.6 L797.6,361.6" stroke="#ffa500" stroke-width="1.3" fill="none"/>
<path d="M682.8,367 L682.8,402.6 Q682.8,405.1 685.3,405.1 L749.9,405.1 Q752.4,405.1 752.4,402.6 L752.4,280.2 Q752.4,277.7 754.9,277.7 L797.6,277.7" stroke="#800080" stroke-width="1.3" fill="none"/>
<g fill="none" stroke="#000" stroke-width="4" stroke-linecap="round" stroke-linejoin="round">
<path d="M984.1,539.2 L992.3,565 L1005,551.4 M1002.9,538.1 L1011.4,563.6 L1021.6,536.2"/>
<ellipse cx="1041.5" cy="551.2" rx="12.3" ry="15.8" transform="rotate(8 1041.5 551.2)"/>
<path d="M1065.8,535 L1065.3,567.8 M1066.9,551.7 L1082.6,535.4 M1066.9,551.7 L1084.2,565.8"/>
<path d="M1091.2,535 L1100,566.6 L1111.2,536 L1117.8,567.4 L1132.3,535.2"/>
<path d="M1142.4,544.4 L1140.4,567.2"/>
</g>
<circle cx="984.1" cy="539.2" r="3.2" fill="#fff" stroke="#000" stroke-width="3.6"/>
<circle cx="1002.9" cy="538.1" r="3.2" fill="#fff" stroke="#000" stroke-width="3.6"/>
<circle cx="1021.6" cy="536.2" r="3.2" fill="#fff" stroke="#000" stroke-width="3.6"/>
<circle cx="992.3" cy="565" r="3.2" fill="#fff" stroke="#000" stroke-width="3.6"/>
<circle cx="1011.4" cy="563.6" r="3.2" fill="#fff" stroke="#000" stroke-width="3.6"/>
<circle cx="1066.9" cy="551.7" r="2.6" fill="#fff" stroke="#000" stroke-width="2.8"/>
<circle cx="1142.9" cy="536.9" r="3.2" fill="#fff" stroke="#000" stroke-width="3.6"/>
</svg>
</body></html>
